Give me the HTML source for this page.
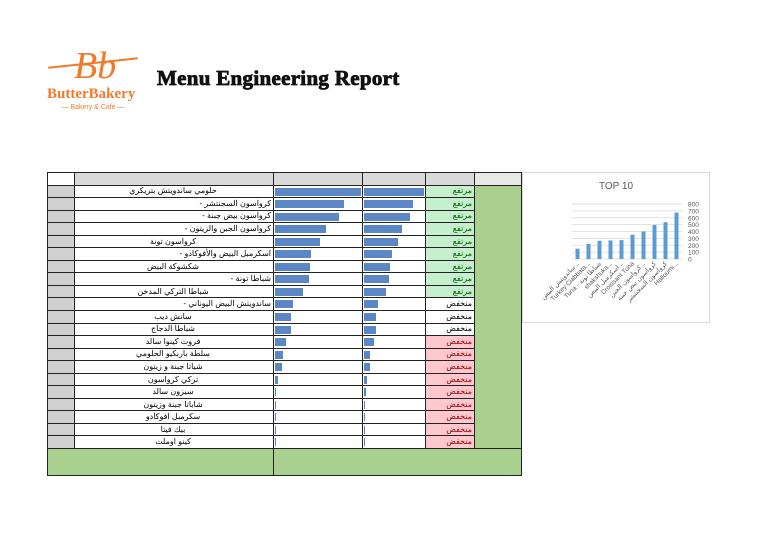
<!DOCTYPE html>
<html><head><meta charset="utf-8">
<style>
body{margin:0;width:768px;height:543px;background:#fff;position:relative;overflow:hidden;font-family:"Liberation Sans","Noto Sans CJK SC",sans-serif}
.abs{position:absolute}
table{position:absolute;left:47px;top:172px;border-collapse:collapse;table-layout:fixed}
td{border:1px solid #222;padding:0;font-size:8px;line-height:10px;height:11.55px;white-space:nowrap;overflow:hidden;position:relative}
td.n{direction:rtl;padding-right:2px}
.bar{position:absolute;top:2px;height:8px;background:#5b87c7}
</style></head><body>
<div class="abs" style="left:44px;top:48px;width:100px;height:64px">
<div class="abs" style="left:30px;top:-4px;font-family:'Liberation Serif',serif;font-style:italic;font-size:38px;color:#f07a2a">Bb</div>
<div class="abs" style="left:4px;top:14px;width:90px;height:2px;background:#f07a2a;transform:rotate(-6deg)"></div>
<div class="abs" style="left:3px;top:38px;font-family:'Liberation Serif',serif;font-weight:bold;font-size:15px;color:#f07a2a">ButterBakery</div>
<div class="abs" style="left:3px;top:56px;width:92px;font-size:7px;color:#f07a2a;text-align:center">— Bakery &amp; Café —</div>
</div>
<div class="abs" style="left:157px;top:66px;font-family:'Liberation Serif',serif;font-weight:900;font-size:21px;color:#111;letter-spacing:0.3px;-webkit-text-stroke:0.8px #111">Menu Engineering Report</div>

<table id="table">
<colgroup><col style="width:27px"><col style="width:199px"><col style="width:89px"><col style="width:63px"><col style="width:49px"><col style="width:47px"></colgroup>
<tbody id="tb"></tbody>
</table>

<svg class="abs" style="left:522px;top:172px" width="188" height="152">
<rect x="0.5" y="0.5" width="187" height="150" fill="#fff" stroke="#d9d9d9"/>
<text x="94" y="17" text-anchor="middle" font-size="10" fill="#595959" font-family="Liberation Sans,sans-serif">TOP 10</text>
<g id="chartg"></g>
</svg>

<script>
const names=["حلومي ساندويتش بتريكري","كرواسون السجنتشر -","كرواسون بيض جبنة -","كرواسون الجبن والزيتون -","كرواسون تونة","اسكرمبل البيض والأفوكادو -","شكشوكة البيض","شباطا تونة -","شباطا التركي المدخن","ساندويتش البيض اليوناني -","سانش ديب","شباطا الدجاج","فروت كينوا سالد","سلطة باربكيو الحلومي","شياتا جبنة و زيتون","تركي كرواسون","سيزون سالد","شاباتا جبنة وزيتون","سكرمبل افوكادو","بيك فيتا","كينو اوملت"];
const qty=[100,80,74,59,52,42,41,40,32,21,19,19,13,9,8,3,1,1,1,1,1];
const rev=[100,81,76,63,57,46,44,42,37,24,20,20,16,10,10,5,3,1,1,1,1];
const cls=["مرتفع","مرتفع","مرتفع","مرتفع","مرتفع","مرتفع","مرتفع","مرتفع","مرتفع","منخفض","منخفض","منخفض","منخفض","منخفض","منخفض","منخفض","منخفض","منخفض","منخفض","منخفض","منخفض"];
const hiLow=[0,0,0,0,0,0,0,0,0,1,1,1,2,2,2,2,2,2,2,2,2];
const tb=document.getElementById('tb');
function td(tr,bg){const d=document.createElement('td');if(bg)d.style.background=bg;tr.appendChild(d);return d;}
const htr=document.createElement('tr');tb.appendChild(htr);
['#fff','#d9d9d9','#d9d9d9','#d9d9d9','#d9d9d9','#e8e8e8'].forEach(c=>{const h=td(htr,c);

});
names.forEach((n,i)=>{
 const tr=document.createElement('tr');tb.appendChild(tr);
 td(tr,'#d0d0d0');
 const nc=td(tr,'#fff');nc.className='n';
 
 
 nc.style.textAlign=(n.endsWith('-')?'right':'center');nc.textContent=n;
 const q=td(tr,'#fff');
 const qb=document.createElement('div');qb.className='bar';qb.style.left='1px';qb.style.width=Math.max(1,qty[i]/100*86)+'px';
 
 
 q.appendChild(qb);
 const r=td(tr,'#fff');
 const rb=document.createElement('div');rb.className='bar';rb.style.left='1px';rb.style.width=Math.max(1,rev[i]/100*60)+'px';
 
 
 r.appendChild(rb);
 const bg=hiLow[i]==0?'#c6efce':(hiLow[i]==1?'#fff':'#ffc7ce');
 const col=hiLow[i]==0?'#006100':(hiLow[i]==1?'#000':'#9c0006');
 const k=td(tr,bg);
 
 
 k.style.textAlign='right';k.style.paddingRight='2px';k.style.color=col;k.textContent=cls[i];
 if(i==0){const g=td(tr,'#a9d08e');g.rowSpan=21;
 
 }
});
const ftr=document.createElement('tr');tb.appendChild(ftr);
const f1=td(ftr,'#a9d08e');f1.colSpan=2;f1.style.height='26px';


const f2=td(ftr,'#a9d08e');f2.colSpan=4;



const cats=["ساندويتش البيض...","Turkey Ciabbata...","Tuna - شباطا تونة","shakshuka...","اسكرمبل البيض...","Croissant Tuna","كرواسون الجبن...","كرواسون بيض جبنة","كرواسون السجنتشر","Halloumi..."];
const vals=[150,220,265,270,275,355,400,495,535,675];
const ticks=[0,100,200,300,400,500,600,700,800];
const G=document.getElementById('chartg');const NS='http://www.w3.org/2000/svg';
const x0=50,x1=160,yB=87,yT=32;
const ys=v=>yB-(v/800)*(yB-yT);
const xs=i=>x0+(i+0.5)*(x1-x0)/cats.length;
function el(t,a){const e=document.createElementNS(NS,t);for(const k in a)e.setAttribute(k,a[k]);G.appendChild(e);return e;}
ticks.forEach(t=>{const l=el('line',{x1:x0,x2:x1,y1:ys(t),y2:ys(t),stroke:'#d9d9d9','stroke-width':0.7});


const tx=el('text',{x:166,y:ys(t)+2.5,'font-size':6.5,fill:'#595959','font-family':'Liberation Sans,sans-serif'});tx.textContent=t;

});
vals.forEach((v,i)=>{const b=el('rect',{x:xs(i)-2,y:ys(v),width:4,height:yB-ys(v),fill:'#5b9bd5'});


const tx=el('text',{x:xs(i)+2,y:yB+5,'font-size':6.5,fill:'#595959','text-anchor':'end','font-family':'Liberation Sans,sans-serif',transform:`rotate(-45 ${xs(i)+2} ${yB+5})`});tx.textContent=cats[i];

});
</script>
</body></html>
